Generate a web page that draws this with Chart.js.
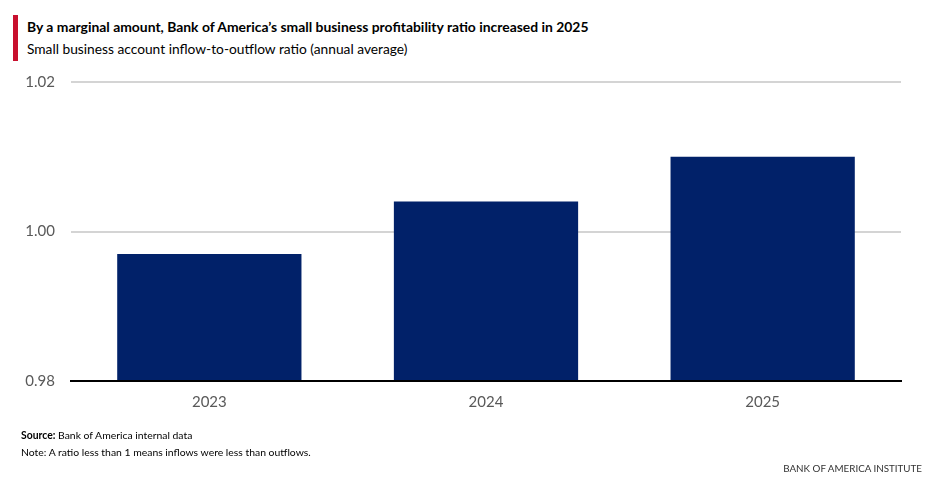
<!DOCTYPE html>
<html>
<head>
<meta charset="utf-8">
<script src="https://cdn.jsdelivr.net/npm/chart.js@4.4.1/dist/chart.umd.min.js"></script>
<style>
  html, body { margin: 0; padding: 0; background: #fff; }
  body { width: 933px; height: 478px; position: relative; overflow: hidden; font-family: Lato, "Noto Sans", sans-serif; color: #000; }
  #accent { position: absolute; left: 13px; top: 15px; width: 5px; height: 46px; background: #c8102e; }
  #title { position: absolute; left: 27px; top: 18px; font-size: 13.9px; font-weight: 700; white-space: nowrap; }
  #subtitle { position: absolute; left: 27px; top: 40px; font-size: 13.75px; white-space: nowrap; }
  #wrap { position: absolute; left: 0; top: 0; width: 933px; height: 478px; }
  .foot { position: absolute; left: 21px; font-size: 10.4px; white-space: nowrap; }
  #brand { position: absolute; right: 11px; top: 462px; font-size: 9.8px; color: #333; white-space: nowrap; }
</style>
</head>
<body>
<div id="accent"></div>
<div id="title">By a marginal amount, Bank of America’s small business profitability ratio increased in 2025</div>
<div id="subtitle">Small business account inflow-to-outflow ratio (annual average)</div>
<div id="wrap"><canvas id="chart"></canvas></div>
<div class="foot" style="top:429px"><b>Source:</b> Bank of America internal data</div>
<div class="foot" style="top:446px">Note: A ratio less than 1 means inflows were less than outflows.</div>
<div id="brand">BANK OF AMERICA INSTITUTE</div>

<script>
// data
const years = ['2023', '2024', '2025']
const ratios = [0.997, 1.004, 1.010]
const yTicks = [0.98, 1.00, 1.02]

const ctx = document.getElementById('chart').getContext('2d')

new Chart(ctx, {
  type: 'bar',
  data: {
    labels: years,
    datasets: [{
      data: ratios,
      backgroundColor: '#012169',
      base: yTicks[0],
      categoryPercentage: 1,
      barPercentage: 0.666
    }]
  },
  options: {
    responsive: true,
    maintainAspectRatio: false,
    animation: false,
    layout: { padding: { left: 0, right: 32, top: 82, bottom: 0 } },
    plugins: {
      legend: { display: false },
      tooltip: { enabled: false }
    },
    scales: {
      x: {
        grid: { display: false, drawTicks: false },
        border: { display: true, color: '#000', width: 2 },
        ticks: {
          color: '#595959',
          padding: 12,
          font: { family: 'Lato, sans-serif', size: 15 }
        },
        afterFit: (s) => { s.height = 478 - 381 }
      },
      y: {
        min: yTicks[0],
        max: yTicks[yTicks.length - 1],
        afterBuildTicks: (s) => { s.ticks = yTicks.map(v => ({ value: v })) },
        grid: {
          drawTicks: false,
          lineWidth: 2,
          color: (c) => c.tick && c.tick.value === yTicks[0] ? 'rgba(0,0,0,0)' : '#d4d4d4'
        },
        border: { display: false },
        ticks: {
          color: '#595959',
          padding: 16,
          font: { family: 'Lato, sans-serif', size: 15 },
          callback: (v) => Number(v).toFixed(2)
        },
        afterFit: (s) => { s.width = 71 }
      }
    }
  }
})
</script>
</body>
</html>
